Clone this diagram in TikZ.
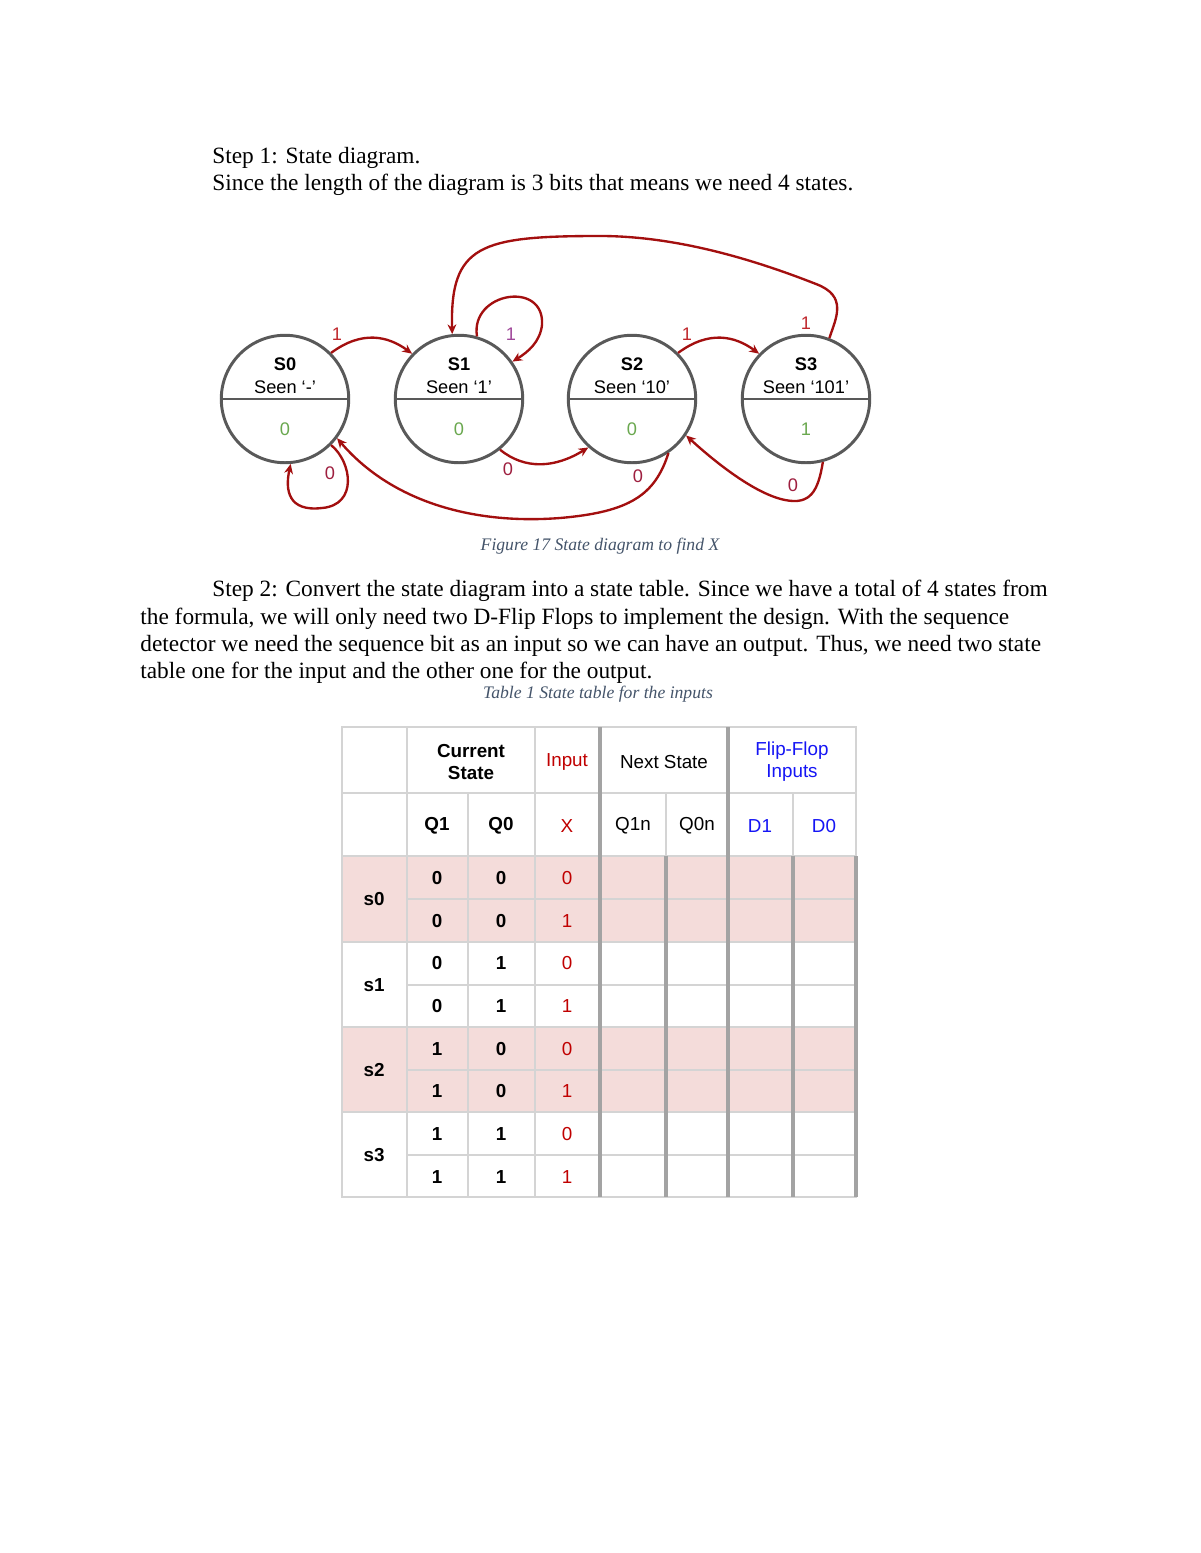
\documentclass[tikz,border=0pt]{standalone}
\usepackage{fontspec}
\setmainfont{Liberation Serif}
\setsansfont{Liberation Sans}
\usetikzlibrary{arrows.meta,calc}
\definecolor{ring}{HTML}{595959}
\definecolor{edge}{HTML}{A30F0F}
\definecolor{lblred}{HTML}{C0282D}
\definecolor{lblpurp}{HTML}{A0489A}
\definecolor{lblzero}{HTML}{9E1F3F}
\definecolor{outgrn}{HTML}{6AA84F}
\definecolor{capt}{HTML}{44546A}
\definecolor{xred}{HTML}{C00000}
\definecolor{ffblue}{HTML}{1515F5}
\definecolor{rowpink}{HTML}{F4DCDA}
\definecolor{gridlt}{HTML}{D4D4D4}
\definecolor{griddk}{HTML}{A3A3A3}

\begin{document}
\begin{tikzpicture}[x=0.51pt,y=-0.51pt,
  body/.style={font=\fontsize{11.9}{14}\selectfont,anchor=base west,inner sep=0pt},
  captn/.style={font=\fontsize{9}{11}\selectfont\itshape,text=capt,inner sep=0pt},
  fsm/.style={circle,draw=ring,line width=1.5pt,minimum size=65pt,inner sep=0pt},
  sfont/.style={font=\sffamily\fontsize{9.3}{11}\selectfont,inner sep=0pt},
  sbold/.style={font=\sffamily\bfseries\fontsize{9.3}{11}\selectfont,inner sep=0pt},
  trans/.style={draw=edge,line width=1.2pt,-{Stealth[length=5pt,width=4.5pt]}},
  tcell/.style={font=\sffamily\fontsize{9.6}{11.2}\selectfont,inner sep=0pt,align=center},
  tbold/.style={tcell,font=\sffamily\bfseries\fontsize{9.6}{11.2}\selectfont},
  tred/.style={tcell,text=xred},
  tblue/.style={tcell,text=ffblue},
  gline/.style={draw=gridlt,line width=0.6pt},
  gbar/.style={draw=griddk,line width=1.6pt}]
\useasboundingbox[fill=white] (0,0) rectangle (1200,1553);

% text above the diagram
\node[body] (step1) at (212,164) {Step 1: State diagram.};
\node[body] (since) at (212,191) {Since the length of the diagram is 3 bits that means we need 4 states.};

% states
\foreach \n/\cx/\seen/\out in {0/285/{Seen ‘-’}/0,1/459/{Seen ‘1’}/0,2/632/{Seen ‘10’}/0,3/806/{Seen ‘101’}/1}{
  \node[fsm] (s\n) at (\cx,399) {};
  \draw[draw=ring,line width=1.2pt] (s\n.west) -- (s\n.east);
  \node[sbold] (s\n-id) at (\cx,364) {S\n};
  \node[sfont] (s\n-seen) at (\cx,387) {\seen};
  \node[sfont,text=outgrn] (s\n-out) at (\cx,429) {\out};
}

% transitions
\draw[trans] (s0.45) .. controls (362,330) and (388,336) .. (s1.136);
\node[sfont,text=lblred] (l01) at (337,334) {1};
\draw[trans] (s1.74) .. controls (470,292) and (545,280) .. (542,325) .. controls (540,342) and (528,352) .. (s1.35);
\node[sfont,text=lblpurp] (l11) at (511,334) {1};
\draw[trans] (s2.45) .. controls (709,330) and (735,336) .. (s3.136);
\node[sfont,text=lblred] (l23) at (687,334) {1};
\draw[trans] (s3.69) .. controls (836,318) and (848,296) .. (816,284) .. controls (760,262) and (680,236) .. (600,236) .. controls (480,236) and (450,245) .. (s1.96);
\node[sfont,text=lblred] (l31) at (806,323) {1};
\draw[trans] (s1.-51) .. controls (525,470) and (555,468) .. (s2.-132);
\node[sfont,text=lblzero] (l12) at (508,469) {0};
\draw[trans] (s0.-45) .. controls (352,462) and (358,505) .. (322,508) .. controls (288,512) and (285,490) .. (s0.-85);
\node[sfont,text=lblzero] (l00) at (330,473) {0};
\draw[trans] (s2.-56) .. controls (655,495) and (630,512) .. (560,518) .. controls (470,525) and (390,500) .. (s0.-37);
\node[sfont,text=lblzero] (l20) at (638,476) {0};
\draw[trans] (s3.-75) .. controls (818,492) and (810,505) .. (785,500) .. controls (755,494) and (715,462) .. (s2.-34);
\node[sfont,text=lblzero] (l32) at (793,485) {0};

\node[captn] (fig) at (600,546) {Figure 17 State diagram to find X};

% step 2 text
\node[body] (p1) at (212,596) {Step 2: Convert the state diagram into a state table. Since we have a total of 4 states from};
\node[body] (p2) at (140,624) {the formula, we will only need two D-Flip Flops to implement the design. With the sequence};
\node[body] (p3) at (140,651) {detector we need the sequence bit as an input so we can have an output. Thus, we need two state};
\node[body] (p4) at (140,678) {table one for the input and the other one for the output.};
\node[captn] (tab) at (598,694) {Table 1 State table for the inputs};

% table
\fill[rowpink] (342,856) rectangle (856,942);
\fill[rowpink] (342,1027) rectangle (856,1112);
\draw[gline] (342,727) rectangle (856,1197);
\draw[gline] (342,793) -- (856,793);
\foreach \y in {856,942,1027,1112}{\draw[gline] (342,\y) -- (856,\y);}
\foreach \y in {899,985,1070,1155}{\draw[gline] (407,\y) -- (856,\y);}
\foreach \x in {407,535}{\draw[gline] (\x,727) -- (\x,1197);}
\draw[gline] (468,793) -- (468,1197);
\foreach \x in {666,793}{\draw[gline] (\x,793) -- (\x,856);}
\foreach \x in {600,728}{\draw[gbar] (\x,727) -- (\x,1197);}
\foreach \x in {666,793,856}{\draw[gbar] (\x,856) -- (\x,1197);}

\node[tbold] (h-cur) at (471,762) {Current\\State};
\node[tred] (h-in) at (567,762) {Input};
\node[tcell] (h-nxt) at (664,762) {Next State};
\node[tblue] (h-ff) at (792,762) {Flip-Flop\\Inputs};
\foreach \x/\t/\sty in {437/Q1/tbold,501/Q0/tbold,567/X/tred,633/Q1n/tcell,697/Q0n/tcell,760/D1/tblue,824/D0/tblue}{
  \node[\sty] (h-\t) at (\x,826) {\t};
}
\foreach \a/\b/\c [count=\k] in {0/0/0,0/0/1,0/1/0,0/1/1,1/0/0,1/0/1,1/1/0,1/1/1}{
  \node[tbold] (q1-\k) at (437,{878+(\k-1)*42.7}) {\a};
  \node[tbold] (q0-\k) at (501,{878+(\k-1)*42.7}) {\b};
  \node[tred] (x-\k) at (567,{878+(\k-1)*42.7}) {\c};
}
\foreach \s/\y in {0/899,1/985,2/1070,3/1155}{
  \node[tbold] (st-\s) at (374,\y) {s\s};
}
\end{tikzpicture}
\end{document}
